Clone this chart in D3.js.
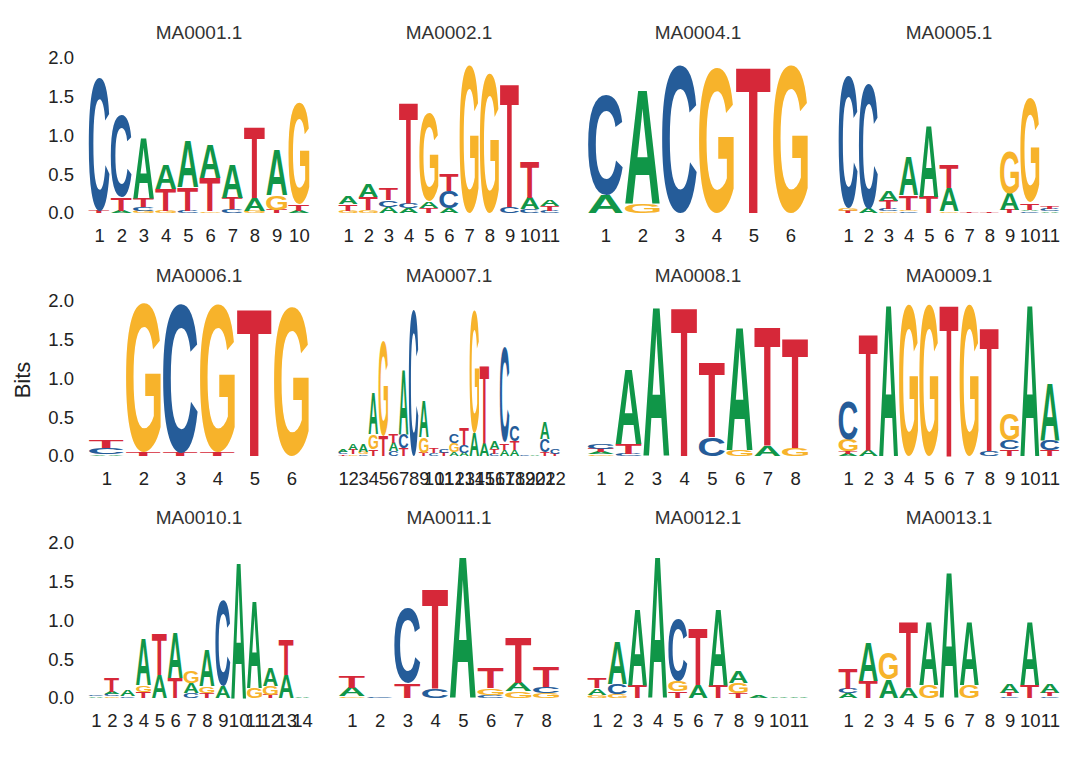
<!DOCTYPE html>
<html><head><meta charset="utf-8">
<script src="https://cdn.jsdelivr.net/npm/d3@7"></script>
<style>body{margin:0;background:#fff}</style></head>
<body><svg id="c" width="1080" height="771"></svg>
<script>
// Motif names
const motifNames = ["MA0001.1","MA0002.1","MA0004.1","MA0005.1","MA0006.1","MA0007.1","MA0008.1","MA0009.1","MA0010.1","MA0011.1","MA0012.1","MA0013.1"];
// Each position: letter heights in bits
const MA0001 = [{C:1.72,T:0.03},{A:0.03,T:0.17,C:1.05},{G:0.03,C:0.05,T:0.12,A:0.78},{G:0.03,T:0.28,A:0.32},{C:0.03,T:0.3,A:0.6},{G:0.02,T:0.43,A:0.43},{C:0.05,T:0.15,A:0.43},{G:0.03,A:0.17,T:0.92},{T:0.04,G:0.19,A:0.58},{A:0.03,T:0.08,G:1.31}];
const MA0002 = [{G:0.03,A:0.1,T:0.09},{G:0.04,T:0.17,A:0.17},{A:0.08,C:0.09,T:0.15},{A:0.06,C:0.06,T:1.31},{T:0.06,A:0.09,G:1.14},{A:0.06,C:0.22,T:0.22},{G:1.91},{G:1.8},{C:0.08,T:1.6},{C:0.05,A:0.15,T:0.47},{C:0.03,T:0.06,A:0.09}];
const MA0004 = [{A:0.23,C:1.29},{G:0.12,A:1.48},{C:1.9},{G:1.87},{T:1.9},{G:1.9}];
const MA0005 = [{T:0.03,G:0.03,C:1.7},{A:0.06,C:1.61},{G:0.02,C:0.03,T:0.11,A:0.13},{C:0.02,G:0.02,T:0.19,A:0.5},{T:0.21,A:0.92},{G:0.02,A:0.3,T:0.3},{T:0.02},{T:0.02},{T:0.04,A:0.21,G:0.54},{C:0.02,A:0.02,T:0.09,G:1.35},{A:0.02,C:0.03,T:0.03}];
const MA0006 = [{A:0.02,C:0.08,T:0.1},{T:0.05,G:1.92},{T:0.04,C:1.92},{T:0.05,G:1.9},{T:1.92},{G:1.92}];
const MA0007 = [{T:0.02,C:0.03,A:0.03},{G:0.02,A:0.08,T:0.06},{C:0.02,G:0.03,A:0.1},{T:0.09,G:0.19,A:0.54},{T:0.26,G:1.22},{C:0.06,T:0.12,A:0.11},{T:0.1,C:0.19,A:0.84},{C:1.89},{T:0.04,G:0.21,A:0.47},{C:0.04,T:0.06},{T:0.04,C:0.05},{A:0.05,G:0.11,C:0.11},{A:0.04,C:0.1,T:0.21},{A:0.3,G:1.59},{A:0.17,T:1.0},{C:0.03,T:0.06,A:0.1},{A:0.08,T:0.09,C:1.23},{A:0.08,T:0.11,C:0.21},{C:0.02},{A:0.02},{T:0.05,C:0.17,A:0.21},{T:0.03,C:0.06}];
const MA0008 = [{G:0.02,A:0.03,T:0.04,C:0.07},{C:0.03,T:0.13,A:0.97},{A:1.93},{T:1.93},{C:0.24,T:0.97},{G:0.08,A:1.59},{A:0.13,T:1.55},{G:0.1,T:1.42}];
const MA0009 = [{A:0.03,T:0.03,G:0.15,C:0.5},{A:0.08,T:1.5},{A:1.96},{G:1.96},{G:1.96},{T:1.96},{G:1.96},{C:0.06,T:1.59},{T:0.09,C:0.11,G:0.34},{A:1.96},{T:0.08,C:0.13,A:0.73}];
const MA0010 = [{A:0.02,C:0.02},{G:0.02,C:0.03,A:0.03,T:0.19},{C:0.02,A:0.08},{T:0.08,G:0.09,A:0.6},{A:0.3,T:0.54},{T:0.26,A:0.58},{C:0.06,A:0.13,G:0.15},{T:0.06,G:0.09,A:0.47},{A:0.15,C:1.1},{A:1.76},{G:0.13,A:1.12},{T:0.04,G:0.11,A:0.24},{A:0.3,T:0.45},{A:0.02}];
const MA0011 = [{G:0.02,A:0.11,T:0.15},{C:0.02},{T:0.19,C:0.97},{C:0.11,T:1.29},{A:1.83},{C:0.04,G:0.09,T:0.26},{G:0.09,A:0.11,T:0.58},{G:0.06,C:0.08,T:0.26}];
const MA0012 = [{G:0.04,A:0.09,T:0.13},{G:0.05,C:0.13,A:0.56},{T:0.17,A:0.99},{A:1.83},{T:0.09,G:0.13,C:0.8},{A:0.17,T:0.73},{T:0.17,A:0.99},{T:0.06,G:0.13,A:0.15},{A:0.03},{A:0.01},{A:0.01}];
const MA0013 = [{A:0.06,C:0.06,T:0.26},{T:0.22,A:0.5},{A:0.24,G:0.34},{A:0.13,T:0.86},{G:0.17,A:0.82},{A:1.63},{G:0.17,A:0.82},{A:0.005},{C:0.02,T:0.05,A:0.11},{T:0.17,A:0.82},{C:0.02,T:0.05,A:0.11}];
const motifs = [MA0001,MA0002,MA0004,MA0005,MA0006,MA0007,MA0008,MA0009,MA0010,MA0011,MA0012,MA0013];
const yTicks = [0,0.5,1.0,1.5,2.0];
const colors = {A:"#109648",C:"#255C99",G:"#F7B32B",T:"#D62839"};

const FONT = "bold 100px 'Liberation Sans', Arial, sans-serif";
const cv = document.createElement("canvas").getContext("2d");
cv.font = FONT;
const metrics = {};
for (const L of "ACGT") {
  const m = cv.measureText(L);
  metrics[L] = {l:m.actualBoundingBoxLeft, r:m.actualBoundingBoxRight, a:m.actualBoundingBoxAscent, d:m.actualBoundingBoxDescent};
}

const svg = d3.select("#c");
const colLeft = [88,338,587,838], panelW = 222;
const rowBase = [213,456,698], bitsH = 155;
const font = "'Liberation Sans', Arial, sans-serif";

motifs.forEach((data, i) => {
  const col = i % 4, row = Math.floor(i / 4);
  const n = data.length;
  const x = d3.scaleLinear().domain([0.5, n + 0.5]).range([colLeft[col], colLeft[col] + panelW]);
  const y = d3.scaleLinear().domain([0, 2]).range([rowBase[row], rowBase[row] - bitsH]);
  const g = svg.append("g");
  g.append("text").attr("x", colLeft[col] + panelW / 2).attr("y", rowBase[row] - 174)
    .attr("text-anchor", "middle").attr("font-family", font).attr("font-size", 19).attr("fill", "#333")
    .text(motifNames[i]);
  if (col === 0) {
    const ay = d3.axisLeft(y).tickValues(yTicks).tickFormat(d3.format(".1f")).tickSize(0).tickPadding(14);
    const ga = g.append("g").attr("transform", `translate(${colLeft[col]},0)`).call(ay);
    ga.select(".domain").remove();
    ga.selectAll("text").attr("font-size", 18.5).attr("font-family", font).attr("fill", "#222");
  }
  const ax = d3.axisBottom(x).tickValues(d3.range(1, n + 1)).tickFormat(d3.format("d")).tickSize(0).tickPadding(16);
  const gx = g.append("g").attr("transform", `translate(0,${rowBase[row]})`).call(ax);
  gx.select(".domain").remove();
  gx.selectAll("text").attr("font-size", 18.5).attr("font-family", font).attr("fill", "#222");

  data.forEach((pos, j) => {
    const entries = Object.entries(pos).sort((a, b) => a[1] - b[1]);
    let cum = 0;
    const x0 = x(j + 1 - 0.47), x1 = x(j + 1 + 0.47);
    entries.forEach(([L, v]) => {
      const yb = y(cum), yt = y(cum + v);
      cum += v;
      const h = yb - yt, w = x1 - x0;
      if (h <= 0.2) return;
      const m = metrics[L];
      const sx = w / (m.l + m.r), sy = h / (m.a + m.d);
      g.append("text").text(L)
        .attr("font-family", font).attr("font-weight", "bold").attr("font-size", 100)
        .attr("fill", colors[L])
        .attr("transform", `translate(${x0 + m.l * sx},${yb - m.d * sy}) scale(${sx},${sy})`);
    });
  });
});
svg.append("text").attr("transform", "translate(30,380) rotate(-90)").attr("text-anchor", "middle")
  .attr("font-family", font).attr("font-size", 22).attr("fill", "#222").text("Bits");
</script></body></html>
